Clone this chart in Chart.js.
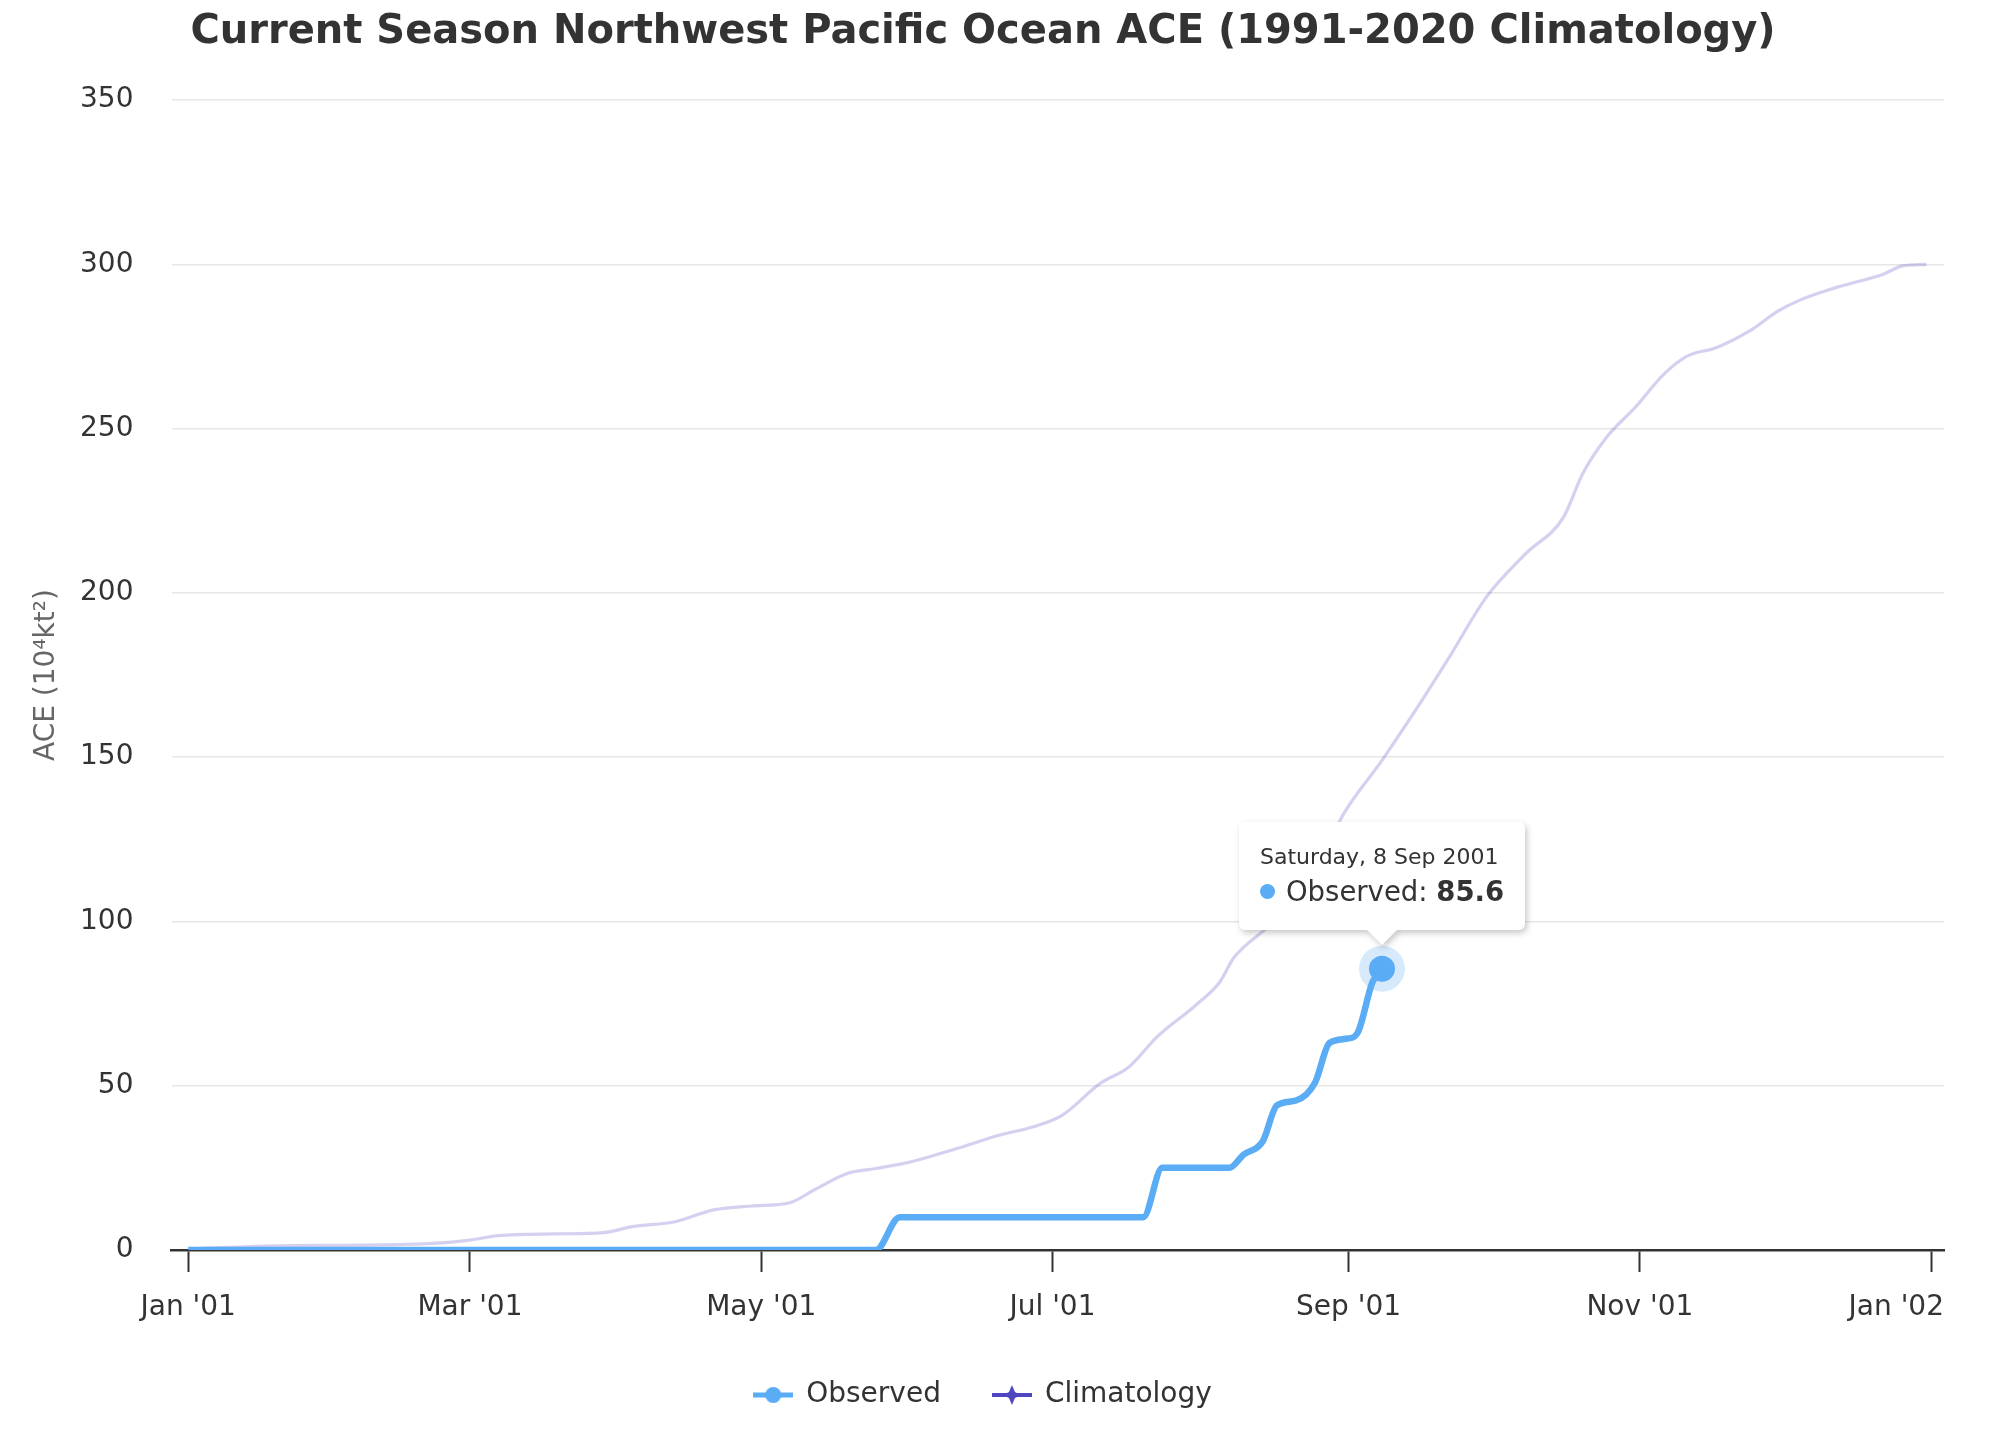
<!DOCTYPE html>
<html>
<head>
<meta charset="utf-8">
<title>Northwest Pacific Ocean ACE</title>
<script src="https://cdn.jsdelivr.net/npm/chart.js@4.4.1/dist/chart.umd.min.js"></script>
<style>
  html, body { margin: 0; padding: 0; background: #fff; }
  #wrap { position: relative; width: 1992px; height: 1432px; }
  #tip {
    position: absolute; display: none; background: #fff; border-radius: 6px;
    padding: 22px 21px 22px 21px; font-family: 'DejaVu Sans', sans-serif; color: #333;
    white-space: nowrap; pointer-events: none;
    filter: drop-shadow(2px 3px 3px rgba(0, 0, 0, 0.22));
  }
  #tip::after {
    content: ''; position: absolute; left: 50%; bottom: -15px; margin-left: -15px;
    border-left: 15px solid transparent; border-right: 15px solid transparent; border-top: 15px solid #fff;
  }
  #tip .hdr { font-size: 22px; line-height: 26px; }
  #tip .row { font-size: 27.5px; line-height: 34px; margin-top: 4px; }
  #tip .dot { display: inline-block; width: 15px; height: 15px; border-radius: 50%; margin-right: 11px; position: relative; top: -2px; }
</style>
</head>
<body>
<div id="wrap"><canvas id="aceChart"></canvas><div id="tip"></div></div>
<script>
// день года (0 = 1 янв 2001) и накопленный ACE
const obsDays = [0, 144, 149, 200, 204, 218, 221, 225, 228, 232, 236, 239, 243, 245, 248, 250];
const obsValues = [0, 0, 10, 10, 25, 25, 29, 33, 44, 45.5, 51, 63, 64.4, 66.4, 81.5, 85.6];

const climDays = [0, 16, 37, 51, 59, 65, 77, 87, 93, 102, 110, 118, 126, 131, 138, 144, 151, 161, 170, 177,
  183, 191, 197, 203, 211, 216, 219, 226, 235, 242, 250, 257, 264, 272, 280, 288, 292, 297, 303, 309,
  314, 320, 327, 333, 338, 345, 355, 359, 364];
const climValues = [0.3, 1.2, 1.5, 2.0, 3.0, 4.4, 4.9, 5.3, 7.1, 8.6, 12.2, 13.4, 14.4, 18.2, 23.3, 24.8, 26.7, 30.9, 35.0, 37.5,
  41.0, 50.7, 55.7, 65.0, 74.5, 81.5, 89.0, 98.3, 112.5, 132.8, 149.0, 164.2, 180.2, 199.0, 211.8, 223.0, 236.2, 247.3, 256.4, 266.5,
  272.1, 274.6, 279.7, 285.8, 289.4, 292.9, 297.0, 299.5, 300.0];

const tickDays = [0, 59, 120, 181, 243, 304, 365];
const tickLabels = ["Jan '01", "Mar '01", "May '01", "Jul '01", "Sep '01", "Nov '01", "Jan '02"];

const weekDays = ['Sunday', 'Monday', 'Tuesday', 'Wednesday', 'Thursday', 'Friday', 'Saturday'];
const monthNames = ['Jan', 'Feb', 'Mar', 'Apr', 'May', 'Jun', 'Jul', 'Aug', 'Sep', 'Oct', 'Nov', 'Dec'];

const obsColor = '#5aacf5';
const climColor = 'rgba(80, 72, 192, 0.25)';
const font = 'DejaVu Sans';

const fmtDate = (day) => {
    const d = new Date(2001, 0, 1 + day);
    return weekDays[d.getDay()] + ', ' + d.getDate() + ' ' + monthNames[d.getMonth()] + ' ' + d.getFullYear();
};

// значки легенды: линия + маркер
function makeIcon(color, lineW, shape) {
    const c = document.createElement('canvas');
    c.width = 40; c.height = 24;
    const g = c.getContext('2d');
    g.strokeStyle = color; g.lineWidth = lineW;
    g.beginPath(); g.moveTo(0, 12); g.lineTo(40, 12); g.stroke();
    g.fillStyle = color;
    g.beginPath();
    if (shape === 'circle') {
        g.arc(20, 12, 8, 0, Math.PI * 2);
    } else {
        const pts = [[20, 2], [23, 9], [29, 12], [23, 15], [20, 22], [17, 15], [11, 12], [17, 9]];
        pts.forEach((p, i) => i ? g.lineTo(p[0], p[1]) : g.moveTo(p[0], p[1]));
        g.closePath();
    }
    g.fill();
    return c;
}
const legendIcons = [makeIcon(obsColor, 5, 'circle'), makeIcon('#4f47c0', 4, 'star')];

function showTip(context) {
    const tip = document.getElementById('tip');
    const t = context.tooltip;
    if (!t.dataPoints || !t.dataPoints.length) { tip.style.display = 'none'; return; }
    const p = t.dataPoints[0];
    tip.innerHTML = '<div class="hdr">' + fmtDate(p.parsed.x) + '</div>' +
        '<div class="row"><span class="dot" style="background:' + p.dataset.borderColor + '"></span>' +
        p.dataset.label + ': <b>' + p.parsed.y.toFixed(1) + '</b></div>';
    tip.style.display = 'block';
    tip.style.left = (t.caretX - tip.offsetWidth / 2) + 'px';
    tip.style.top = (t.caretY - 39 - tip.offsetHeight) + 'px';
}

// ореол вокруг активной точки
const haloPlugin = {
    id: 'halo',
    beforeDatasetsDraw(chart) {
        const ctx = chart.ctx;
        chart.getActiveElements().forEach(a => {
            const el = chart.getDatasetMeta(a.datasetIndex).data[a.index];
            ctx.save();
            ctx.beginPath();
            ctx.arc(el.x, el.y, 23, 0, Math.PI * 2);
            ctx.fillStyle = 'rgba(90, 172, 245, 0.25)';
            ctx.fill();
            ctx.restore();
        });
    }
};

// последняя подпись оси X прижата к правому краю
const lastLabelPlugin = {
    id: 'lastLabel',
    beforeDraw(chart) {
        const items = chart.scales.x.getLabelItems(chart.chartArea);
        const last = items[items.length - 1];
        if (!last) return;
        last.options.textAlign = 'right';
        last.options.translation = [chart.chartArea.right, last.options.translation[1]];
    }
};

const chart = new Chart(document.getElementById('aceChart'), {
    type: 'line',
    data: {
        datasets: [{
            label: 'Observed',
            data: obsDays.map((d, i) => ({ x: d, y: obsValues[i] })),
            borderColor: obsColor,
            backgroundColor: obsColor,
            borderWidth: 6.5,
            pointRadius: 0,
            pointHoverRadius: () => 13,
            pointHoverBorderWidth: 0,
            pointHoverBackgroundColor: obsColor,
            cubicInterpolationMode: 'monotone',
            order: 0
        }, {
            label: 'Climatology',
            data: climDays.map((d, i) => ({ x: d, y: climValues[i] })),
            borderColor: climColor,
            backgroundColor: climColor,
            borderWidth: 3.2,
            pointRadius: 0,
            cubicInterpolationMode: 'monotone',
            order: 1
        }]
    },
    options: {
        responsive: true,
        maintainAspectRatio: false,
        animation: false,
        events: [],
        layout: { padding: { left: 0, right: 26, top: 0, bottom: 13 } },
        scales: {
            x: {
                type: 'linear',
                min: -3.5,
                max: 367.7,
                afterBuildTicks: (sc) => { sc.ticks = tickDays.map(v => ({ value: v })); },
                afterFit: (sc) => { sc.height = 79; sc.paddingLeft = 0; sc.paddingRight = 48; },
                ticks: {
                    autoSkip: false,
                    maxRotation: 0,
                    padding: 19,
                    color: '#333',
                    font: { family: font, size: 28 },
                    callback: (v) => { const i = tickDays.indexOf(v); return i >= 0 ? tickLabels[i] : ''; }
                },
                grid: { drawOnChartArea: false, drawTicks: true, tickLength: 22, tickColor: '#333', tickWidth: 2 },
                border: { display: true, color: '#333', width: 2.5 }
            },
            y: {
                min: 0,
                max: 350,
                afterFit: (sc) => { sc.width = 171.5; },
                ticks: { stepSize: 50, padding: 38, color: '#333', font: { family: font, size: 28 } },
                grid: { color: '#e6e6e6', lineWidth: 1.5, drawTicks: false },
                border: { display: false },
                title: {
                    display: true,
                    text: 'ACE (10⁴kt²)',
                    color: '#666',
                    font: { family: font, size: 28 },
                    padding: { top: 30, bottom: 0 }
                }
            }
        },
        plugins: {
            title: {
                display: true,
                text: 'Current Season Northwest Pacific Ocean ACE (1991-2020 Climatology)',
                color: '#333',
                font: { family: font, size: 40, weight: 'bold' },
                padding: { top: 9, bottom: 43 }
            },
            legend: {
                position: 'bottom',
                labels: {
                    usePointStyle: true,
                    pointStyleWidth: 38,
                    padding: 52,
                    color: '#333',
                    font: { family: font, size: 28 },
                    generateLabels: (ch) => Chart.defaults.plugins.legend.labels.generateLabels(ch)
                        .map(item => Object.assign(item, { pointStyle: legendIcons[item.datasetIndex] }))
                }
            },
            tooltip: { enabled: false, external: showTip }
        }
    },
    plugins: [haloPlugin, lastLabelPlugin]
});

// подсказка на последней наблюдённой точке
const lastIdx = obsDays.length - 1;
chart.setActiveElements([{ datasetIndex: 0, index: lastIdx }]);
chart.tooltip.setActiveElements([{ datasetIndex: 0, index: lastIdx }], { x: 0, y: 0 });
chart.update();
</script>
</body>
</html>
